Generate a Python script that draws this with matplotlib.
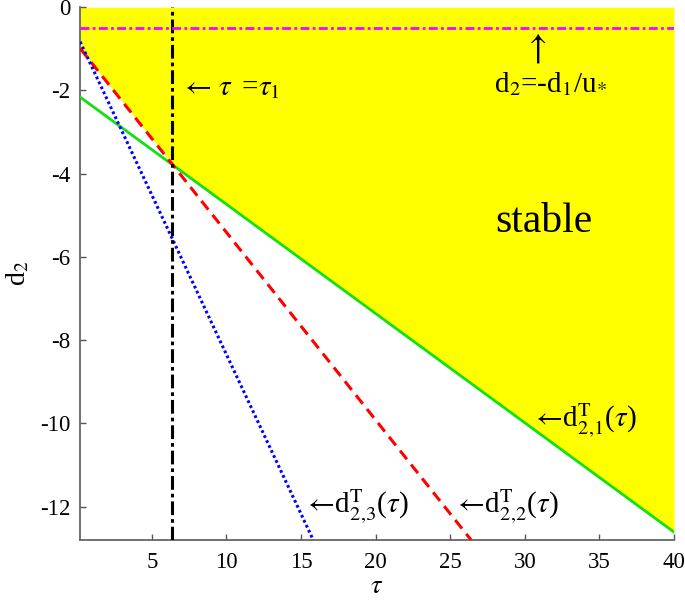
import numpy as np
import matplotlib
matplotlib.use('Agg')
import matplotlib.pyplot as plt

plt.rcParams['font.family'] = ['Liberation Serif', 'DejaVu Serif']
plt.rcParams['mathtext.fontset'] = 'stix'
plt.rcParams['axes.unicode_minus'] = False

# line end points
tau_21 = [0.2, 40.0]
d21 = [-2.16, -12.61]
tau_22 = [0.2, 26.4]
d22 = [-0.99, -12.8]
tau_23 = [0.2, 15.82]
d23 = [-0.83, -12.8]
tau1 = 6.38
d2_star = -0.5

xticks = [5, 10, 15, 20, 25, 30, 35, 40]
yticks = [0, -2, -4, -6, -8, -10, -12]

fig = plt.figure(figsize=(6.85, 6.01), dpi=100)
ax = fig.add_axes([0.117, 0.1015, 0.867, 0.8865])

# stable region: above the upper of d21 / d22
tau_edge = [tau_21[0], tau1, tau_21[1]]
edge = np.maximum(np.interp(tau_edge, tau_21, d21), np.interp(tau_edge, tau_22, d22))
ax.fill_between(tau_edge, edge, 0, color='#FFFF00', lw=0, zorder=1)

ax.plot(tau_21, d21, color='#11E011', lw=2.0, zorder=3)
ax.plot(tau_22, d22, color='#FF0000', lw=2.2, ls=(0, (3.6, 2.2)), zorder=3)
ax.plot(tau_23, d23, color='#0000FF', lw=2.2, ls=(0, (0.9, 0.9)), zorder=3)
ax.axvline(tau1, color='k', lw=2.2, ls=(0, (4.5, 1.3, 1.2, 1.3)), zorder=4)
ax.axhline(d2_star, color='#FF00FF', lw=2.0, ls=(0, (3.2, 1.2, 1.0, 1.2)), zorder=4)

fs = 21
ax.text(6.9, -1.95, r'$\leftarrow\,\tau\,$ =$\tau_{1}$', fontsize=fs, va='center')
ax.text(30.4, -9.93, r'$\leftarrow\!$d$^{\mathrm{T}}_{2{,}1}$($\tau$)', fontsize=fs, va='center')
ax.text(25.2, -12.0, r'$\leftarrow\!$d$^{\mathrm{T}}_{2{,}2}$($\tau$)', fontsize=fs, va='center')
ax.text(15.15, -12.0, r'$\leftarrow\!$d$^{\mathrm{T}}_{2{,}3}$($\tau$)', fontsize=fs, va='center')
ax.text(30.65, -1.0, r'$\uparrow$', fontsize=26, ha='center', va='center')
ax.text(27.95, -2.05, r'd$_{2}$=-d$_{1}$/u$_{*}$', fontsize=fs, va='baseline')
ax.text(28.0, -5.15, 'stable', fontsize=30, va='center')

ax.set_xlim(0.2, 40)
ax.set_ylim(-12.8, 0)
ax.set_xticks(xticks)
ax.set_yticks(yticks)
ax.tick_params(direction='in', length=4, width=1, color='#555555', labelsize=16.5)
ax.tick_params(axis='x', pad=9)
ax.tick_params(axis='y', pad=7)
for s in ['top', 'right']:
    ax.spines[s].set_visible(False)
for s in ['left', 'bottom']:
    ax.spines[s].set_color('#666666')
    ax.spines[s].set_linewidth(1.3)
ax.set_xlabel(r'$\tau$', fontsize=19, labelpad=2)
ax.set_ylabel(r'd$_{2}$', fontsize=20, labelpad=6)

fig.savefig('out.png', dpi=100)
